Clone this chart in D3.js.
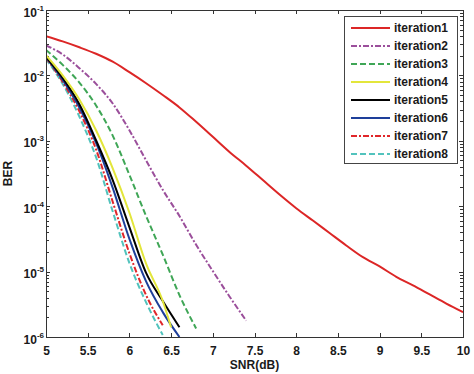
<!DOCTYPE html>
<html>
<head>
<meta charset="utf-8">
<title>BER vs SNR</title>
<script src="https://cdn.jsdelivr.net/npm/d3@7"></script>
<style>
  body{margin:0;background:#fff;}
  text{font-family:"Liberation Sans",Arial,sans-serif;font-weight:bold;fill:#1a1a1a;}
  .axis path{display:none;}
  .axis line{stroke:#333;shape-rendering:crispEdges;}
  .axis text{font-size:12px;}
  .legend text{font-size:12px;}
</style>
</head>
<body>
<div id="plot"></div>
<script>
// values (BER on log scale)
var snr1 = [5.0,5.2,5.4,5.6,5.8,6.0,6.2,6.4,6.6,6.8,7.0,7.2,7.4,7.6,7.8,8.0,8.2,8.4,8.6,8.8,9.0,9.2,9.4,9.6,9.8,10.0];
var ber1 = [3.98e-2,3.31e-2,2.69e-2,2.14e-2,1.62e-2,1.12e-2,7.59e-3,5.01e-3,3.24e-3,1.95e-3,1.15e-3,6.76e-4,4.17e-4,
            2.51e-4,1.51e-4,9.33e-5,6.03e-5,3.89e-5,2.51e-5,1.66e-5,1.20e-5,8.32e-6,6.17e-6,4.47e-6,3.24e-6,2.40e-6];
var snr2 = [5.0,5.2,5.4,5.6,5.8,6.0,6.2,6.4,6.6,6.8,7.0,7.2,7.4];
var ber2 = [2.88e-2,2.09e-2,1.29e-2,7.41e-3,3.72e-3,1.45e-3,5.01e-4,1.78e-4,7.08e-5,2.57e-5,1.02e-5,4.17e-6,1.78e-6];
var snr3 = [5.0,5.2,5.4,5.6,5.8,6.0,6.2,6.4,6.6,6.8];
var ber3 = [2.45e-2,1.45e-2,7.76e-3,3.47e-3,1.20e-3,3.02e-4,7.08e-5,1.82e-5,4.37e-6,1.35e-6];
var snr4 = [5.0,5.2,5.4,5.6,5.8,6.0,6.2,6.4,6.5];
var ber4 = [2.04e-2,1.0e-2,4.27e-3,1.45e-3,3.80e-4,7.94e-5,1.32e-5,3.55e-6,1.41e-6];
var snr5 = [5.0,5.2,5.4,5.6,5.8,6.0,6.2,6.4,6.6];
var ber5 = [1.91e-2,9.12e-3,3.63e-3,1.02e-3,2.51e-4,4.79e-5,9.55e-6,3.55e-6,1.41e-6];
var snr6 = [5.0,5.2,5.4,5.6,5.8,6.0,6.2,6.4,6.6];
var ber6 = [1.91e-2,8.51e-3,3.24e-3,9.33e-4,1.91e-4,3.16e-5,7.08e-6,2.40e-6,1.0e-6];
var snr7 = [5.0,5.2,5.4,5.6,5.8,6.0,6.2,6.4];
var ber7 = [1.86e-2,7.94e-3,2.82e-3,7.41e-4,1.17e-4,1.91e-5,4.37e-6,1.51e-6];
var snr8 = [5.0,5.2,5.4,5.6,5.8,6.0,6.2,6.4];
var ber8 = [1.78e-2,7.41e-3,2.34e-3,5.62e-4,8.32e-5,1.35e-5,3.39e-6,1.07e-6];

var names = ["iteration1","iteration2","iteration3","iteration4","iteration5","iteration6","iteration7","iteration8"];
var xTicks = [5,5.5,6,6.5,7,7.5,8,8.5,9,9.5,10];
var yTicks = [1e-6,1e-5,1e-4,1e-3,1e-2,1e-1];

// line styles
var styles = [
  {color:"#dc2626", dash:null},
  {color:"#9b4f9b", dash:"6,2,2,2"},
  {color:"#3fa656", dash:"6,3"},
  {color:"#e3e63b", dash:null},
  {color:"#000000", dash:null},
  {color:"#1e3f9a", dash:null},
  {color:"#e0262a", dash:"6,2,2,2"},
  {color:"#52c3bd", dash:"6,3"}
];

var series = [[snr1,ber1],[snr2,ber2],[snr3,ber3],[snr4,ber4],[snr5,ber5],[snr6,ber6],[snr7,ber7],[snr8,ber8]]
  .map(function(s,i){
    return {name:names[i], style:styles[i], pts:s[0].map(function(x,j){return [x,s[1][j]];})};
  });

var margin = {top:10, right:11, bottom:37, left:46},
    width = 474-margin.left-margin.right,
    height = 374-margin.top-margin.bottom;

var svg = d3.select("#plot").append("svg")
    .attr("width",474)
    .attr("height",374)
  .append("g")
    .attr("transform","translate("+margin.left+","+margin.top+")");

var x = d3.scaleLinear().domain([5,10]).range([0,width]);
var y = d3.scaleLog().domain([1e-6,1e-1]).range([height,0]);

// minor log ticks
var minors = [];
yTicks.slice(0,-1).forEach(function(d){
  for (var k=2;k<10;k++) minors.push(k*d);
});

// axes, ticks pointing inward on all sides
svg.append("g")
   .attr("class","axis")
   .attr("transform","translate(0,"+height+")")
   .call(d3.axisBottom(x).tickValues(xTicks).tickSizeInner(-4).tickSizeOuter(0).tickPadding(9)
     .tickFormat(function(d){return d;}));

svg.append("g")
   .attr("class","axis")
   .call(d3.axisTop(x).tickValues(xTicks).tickSizeInner(-4).tickSizeOuter(0).tickFormat(""));

var yG = svg.append("g")
   .attr("class","axis")
   .call(d3.axisLeft(y).tickValues(yTicks).tickSizeInner(-4).tickSizeOuter(0).tickPadding(2).tickFormat(function(){return "";}));

yG.selectAll(".tick text").attr("dy","0.5em").each(function(d){
  var t = d3.select(this);
  t.append("tspan").text("10");
  t.append("tspan").attr("dy",-6).style("font-size","8px").text(Math.round(Math.log10(d)));
});

svg.append("g")
   .attr("class","axis")
   .call(d3.axisLeft(y).tickValues(minors).tickSizeInner(-3).tickSizeOuter(0).tickFormat(""));

svg.append("g")
   .attr("class","axis")
   .attr("transform","translate("+width+",0)")
   .call(d3.axisRight(y).tickValues(yTicks).tickSizeInner(-4).tickSizeOuter(0).tickFormat(""));

svg.append("g")
   .attr("class","axis")
   .attr("transform","translate("+width+",0)")
   .call(d3.axisRight(y).tickValues(minors).tickSizeInner(-3).tickSizeOuter(0).tickFormat(""));

// axis titles
svg.append("text")
   .attr("x",width/2)
   .attr("y",height+32)
   .style("font-size","12px")
   .style("text-anchor","middle")
   .text("SNR(dB)");

svg.append("text")
   .attr("transform","rotate(-90)")
   .attr("x",-height/2)
   .attr("y",-34)
   .style("font-size","12px")
   .style("text-anchor","middle")
   .text("BER");

// curves
svg.append("clipPath").attr("id","clip")
   .append("rect").attr("width",width).attr("height",height);

var line = d3.line()
   .curve(d3.curveMonotoneX)
   .x(function(d){return x(d[0]);})
   .y(function(d){return y(d[1]);});

svg.append("g").attr("clip-path","url(#clip)")
   .selectAll(".curve")
   .data(series.slice().reverse())
  .enter().append("path")
   .attr("class","curve")
   .attr("d",function(d){return line(d.pts);})
   .style("fill","none")
   .style("stroke",function(d){return d.style.color;})
   .style("stroke-width",2)
   .style("stroke-dasharray",function(d){return d.style.dash;});

// box
svg.append("rect")
   .attr("width",width)
   .attr("height",height)
   .style("fill","none")
   .style("stroke","#333")
   .style("shape-rendering","crispEdges");

// legend
var legend = svg.append("g")
   .attr("class","legend")
   .attr("transform","translate(298,6)");

legend.append("rect")
   .attr("width",113)
   .attr("height",147)
   .style("fill","#fff")
   .style("stroke","#444")
   .style("shape-rendering","crispEdges");

var row = legend.selectAll(".row")
   .data(series)
  .enter().append("g")
   .attr("class","row")
   .attr("transform",function(d,i){return "translate(0,"+(12+i*18)+")";});

row.append("line")
   .attr("x1",7).attr("x2",46)
   .style("stroke",function(d){return d.style.color;})
   .style("stroke-width",2)
   .style("stroke-dasharray",function(d){return d.style.dash;});

row.append("text")
   .attr("x",50)
   .attr("dy","0.35em")
   .text(function(d){return d.name;});
</script>
</body>
</html>
